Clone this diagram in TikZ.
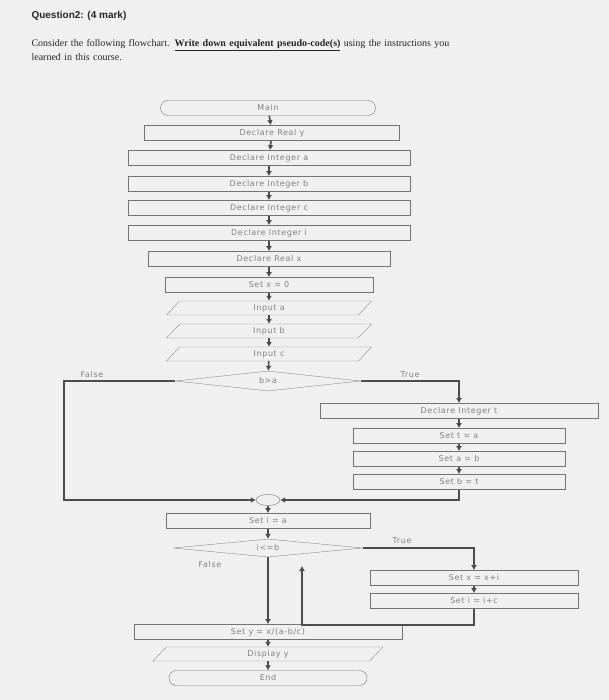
\documentclass[tikz,border=0pt]{standalone}
\usepackage{fontspec}
\setmainfont{Liberation Serif}
\newfontfamily\boxfont[LetterSpace=8]{DejaVu Sans}
\newfontfamily\headfont{Liberation Sans}
\usetikzlibrary{shapes.geometric,shapes.misc,arrows.meta}
\begin{document}
\begin{tikzpicture}[x=1pt,y=-1pt,
  every node/.style={font=\boxfont\fontsize{8}{9}\selectfont, text=black!50},
  proc/.style={draw=black!55, line width=0.8pt, minimum height=15pt, inner sep=0pt},
  io/.style={trapezium, trapezium left angle=30, trapezium right angle=150, draw=black!45, minimum height=14pt, inner sep=0pt, trapezium stretches body},
  term/.style={rounded rectangle, draw=black!55, minimum height=15pt, inner sep=0pt},
  dec/.style={diamond, draw=black!45, aspect=9, inner sep=1pt},
  lbl/.style={text=black!50},
  ln/.style={draw=black!70, line width=1.6pt},
  ar/.style={ln, -{Latex[length=5pt,width=6pt]}}]
\fill[black!6] (0,0) rectangle (609,700);
\useasboundingbox (0,0) rectangle (609,700);
\node[anchor=west, font=\headfont\bfseries\fontsize{10}{12}\selectfont, text=black!85] (q) at (28,16) {Question2: (4 mark)};
\node[anchor=north west, align=left, text width=570pt, font=\fontsize{10}{14}\selectfont, text=black!85] (intro) at (28,36) {Consider the following flowchart. \textbf{\underline{Write down equivalent pseudo-code(s)}} using the instructions you\\ learned in this course.};
\node[term, minimum width=215pt] (main) at (268,108) {Main};
\node[proc, minimum width=255pt] (d1) at (272,133) {Declare Real y};
\node[proc, minimum width=282pt] (d2) at (269,158) {Declare Integer a};
\node[proc, minimum width=282pt] (d3) at (269,184) {Declare Integer b};
\node[proc, minimum width=282pt] (d4) at (269,208) {Declare Integer c};
\node[proc, minimum width=282pt] (d5) at (269,233) {Declare Integer i};
\node[proc, minimum width=242pt] (d6) at (269,259) {Declare Real x};
\node[proc, minimum width=208pt] (s0) at (269,285) {Set x = 0};
\node[io, minimum width=205pt] (ia) at (269,308) {Input a};
\node[io, minimum width=205pt] (ib) at (269,331) {Input b};
\node[io, minimum width=205pt] (ic) at (269,354) {Input c};
\node[dec, minimum width=185pt, minimum height=20pt] (c1) at (268,381) {b>a};
\node[lbl] (f1) at (92,375) {False};
\node[lbl] (t1) at (410,375) {True};
\node[proc, minimum width=278pt] (dt) at (459,411) {Declare Integer t};
\node[proc, minimum width=212pt] (st) at (459,436) {Set t = a};
\node[proc, minimum width=212pt] (sa) at (459,459) {Set a = b};
\node[proc, minimum width=212pt] (sb) at (459,482) {Set b = t};
\node[ellipse, draw=black!55, minimum width=24pt, minimum height=11pt, inner sep=0pt] (m) at (268,500) {};
\node[proc, minimum width=204pt] (si) at (268,521) {Set i = a};
\node[dec, minimum width=190pt, minimum height=18pt] (c2) at (268,548) {i<=b};
\node[lbl] (t2) at (402,541) {True};
\node[lbl] (f2) at (210,565) {False};
\node[proc, minimum width=208pt] (sx) at (474,578) {Set x = x+i};
\node[proc, minimum width=208pt] (sc) at (474,601) {Set i = i+c};
\node[proc, minimum width=268pt] (sy) at (268,632) {Set y = x/(a-b/c)};
\node[io, minimum width=230pt] (dy) at (268,654) {Display y};
\node[term, minimum width=198pt] (e) at (268,678) {End};
\foreach \a/\b in {main/d1,d1/d2,d2/d3,d3/d4,d4/d5,d5/d6,d6/s0,s0/ia,ia/ib,ib/ic,ic/c1,dt/st,st/sa,sa/sb,m/si,si/c2,c2/sy,sx/sc,sy/dy,dy/e}
  \draw[ar] (\a) -- (\b);
\coordinate (fl1) at (64,381);
\coordinate (fl2) at (64,500);
\draw[ar] (c1.west) -- (fl1) -- (fl2) -- (m.west);
\draw[ar] (c1.east) -| (dt.north);
\coordinate (tl) at (459,500);
\draw[ar] (sb.south) -- (tl) -- (m.east);
\draw[ar] (c2.east) -| (sx.north);
\coordinate (lb1) at (474,625);
\coordinate (lb2) at (302,625);
\coordinate (lb3) at (302,566);
\draw[ar] (sc.south) -- (lb1) -- (lb2) -- (lb3);
\end{tikzpicture}
\end{document}
